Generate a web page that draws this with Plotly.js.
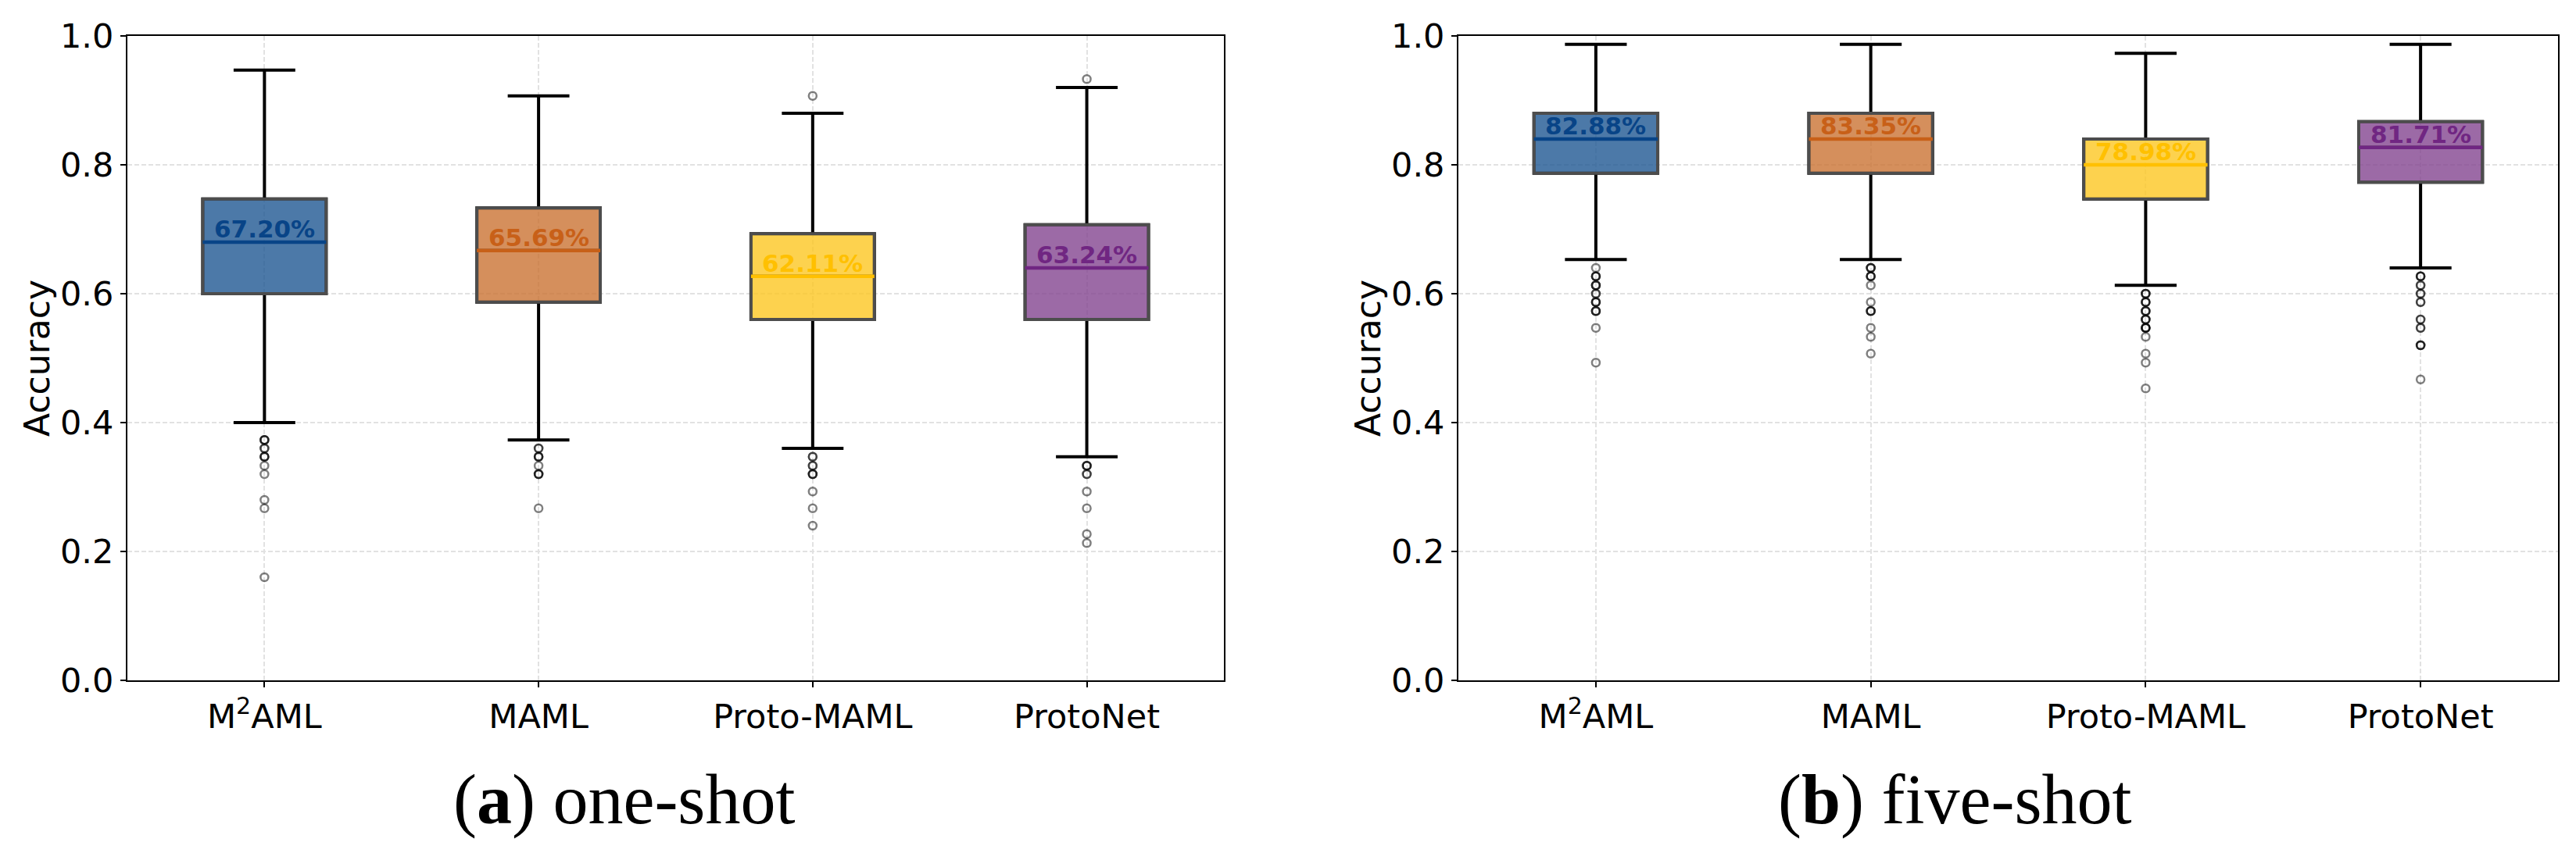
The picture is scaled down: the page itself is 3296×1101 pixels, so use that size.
<!DOCTYPE html>
<html>
<head>
<meta charset="utf-8">
<script src="https://cdn.plot.ly/plotly-3.0.1.min.js"></script>
<style>
  body { margin: 0; background: #fff; }
  #graph_panel { width: 3296px; height: 1101px; }
</style>
</head>
<body>
<div id="graph_panel"></div>
<script>
var methods = ['M<sup>2</sup>AML', 'MAML', 'Proto-MAML', 'ProtoNet'];

// (a) one-shot
var one_upper  = [0.947, 0.907, 0.880, 0.920];
var one_q3     = [0.747, 0.733, 0.693, 0.707];
var one_median = [0.680, 0.667, 0.627, 0.640];
var one_q1     = [0.600, 0.587, 0.560, 0.560];
var one_lower  = [0.400, 0.373, 0.360, 0.347];
var one_mean   = [67.20, 65.69, 62.11, 63.24];
var one_outliers = [
  [0.373, 0.373, 0.373, 0.360, 0.360, 0.347, 0.347, 0.347, 0.333, 0.320, 0.280, 0.267, 0.160],
  [0.360, 0.360, 0.347, 0.347, 0.347, 0.333, 0.320, 0.320, 0.320, 0.267],
  [0.907, 0.347, 0.347, 0.333, 0.333, 0.320, 0.320, 0.320, 0.293, 0.267, 0.240],
  [0.933, 0.333, 0.333, 0.333, 0.320, 0.320, 0.293, 0.267, 0.227, 0.213]
];

// (b) five-shot
var five_upper  = [0.987, 0.987, 0.973, 0.987];
var five_q3     = [0.880, 0.880, 0.840, 0.867];
var five_median = [0.840, 0.840, 0.800, 0.827];
var five_q1     = [0.787, 0.787, 0.747, 0.773];
var five_lower  = [0.653, 0.653, 0.613, 0.640];
var five_mean   = [82.88, 83.35, 78.98, 81.71];
var five_outliers = [
  [0.640, 0.627, 0.627, 0.627, 0.613, 0.613, 0.613, 0.600, 0.600, 0.587, 0.587, 0.587, 0.573, 0.573, 0.573, 0.547, 0.493],
  [0.640, 0.640, 0.640, 0.627, 0.627, 0.627, 0.613, 0.587, 0.573, 0.573, 0.573, 0.547, 0.533, 0.507],
  [0.600, 0.600, 0.600, 0.587, 0.587, 0.587, 0.573, 0.573, 0.573, 0.560, 0.560, 0.560, 0.547, 0.547, 0.547, 0.547, 0.533, 0.507, 0.493, 0.453],
  [0.627, 0.627, 0.627, 0.613, 0.613, 0.600, 0.600, 0.587, 0.587, 0.560, 0.560, 0.547, 0.547, 0.520, 0.520, 0.520, 0.467]
];

var fill_colors   = ['rgba(31,87,146,0.8)', 'rgba(203,115,51,0.8)', 'rgba(253,199,34,0.8)', 'rgba(131,69,144,0.8)'];
var median_colors = ['#084487', '#c86018', '#ffc000', '#702682'];

function boxTraces(xa, ya, lower, q1, med, q3, upper, outliers){
  var traces = [];
  methods.forEach(function(m, i){
    var common = { type: 'box', x: [m], xaxis: xa, yaxis: ya, width: 0.45, boxpoints: false, hoverinfo: 'skip', showlegend: false };
    // whiskers and caps
    traces.push(Object.assign({}, common, {
      q1: [q1[i]], median: [med[i]], q3: [q3[i]], lowerfence: [lower[i]], upperfence: [upper[i]],
      whiskerwidth: 0.5, fillcolor: 'rgba(0,0,0,0)', line: { color: 'black', width: 4 }
    }));
    // the box itself
    traces.push(Object.assign({}, common, {
      q1: [q1[i]], median: [med[i]], q3: [q3[i]], lowerfence: [q1[i]], upperfence: [q3[i]],
      whiskerwidth: 0, fillcolor: fill_colors[i], line: { color: '#4d4d4d', width: 4 }
    }));
    // coloured median line
    traces.push(Object.assign({}, common, {
      q1: [med[i]], median: [med[i]], q3: [med[i]], lowerfence: [med[i]], upperfence: [med[i]],
      whiskerwidth: 0, fillcolor: 'rgba(0,0,0,0)', line: { color: median_colors[i], width: 4.5 }
    }));
    traces.push({
      type: 'scatter', mode: 'markers', xaxis: xa, yaxis: ya,
      x: outliers[i].map(function(){ return m; }), y: outliers[i],
      marker: { symbol: 'circle-open', size: 10, color: 'rgba(0,0,0,0.5)', line: { width: 2.5 } },
      hoverinfo: 'skip', showlegend: false
    });
  });
  return traces;
}

function valueLabels(xa, ya, med, mean){
  return methods.map(function(m, i){
    return {
      xref: xa, yref: ya, x: i, y: med[i], yanchor: 'bottom', yshift: -3, showarrow: false,
      text: '<b>' + mean[i].toFixed(2) + '%</b>',
      font: { family: 'DejaVu Sans', size: 31, color: median_colors[i] }
    };
  });
}

function xAxis(domain, anchor){
  return {
    domain: domain, anchor: anchor, type: 'category',
    categoryorder: 'array', categoryarray: methods, range: [-0.5, 3.5],
    showline: true, mirror: true, linecolor: 'black', linewidth: 2,
    ticks: 'outside', ticklen: 7, tickwidth: 2, tickcolor: 'black',
    tickfont: { family: 'DejaVu Sans', size: 43, color: 'black' },
    showgrid: true, gridcolor: '#e2e2e2', gridwidth: 2, griddash: '6px,3px',
    zeroline: false, fixedrange: true
  };
}

function yAxis(anchor){
  return {
    anchor: anchor, domain: [0, 1], range: [0, 1], tick0: 0, dtick: 0.2, tickformat: '.1f',
    showline: true, mirror: true, linecolor: 'black', linewidth: 2,
    ticks: 'outside', ticklen: 7, tickwidth: 2, tickcolor: 'black',
    tickfont: { family: 'DejaVu Sans', size: 43, color: 'black' },
    title: { text: 'Accuracy', font: { family: 'DejaVu Sans', size: 44, color: 'black' }, standoff: 0 },
    showgrid: true, gridcolor: '#e2e2e2', gridwidth: 2, griddash: '6px,3px',
    zeroline: false, fixedrange: true
  };
}

function createGraph(){
  var data = boxTraces('x', 'y', one_lower, one_q1, one_median, one_q3, one_upper, one_outliers)
    .concat(boxTraces('x2', 'y2', five_lower, five_q1, five_median, five_q3, five_upper, five_outliers));

  var captions = [
    { xref: 'paper', yref: 'paper', x: 0.2042, y: -0.186, xanchor: 'center', yanchor: 'middle', showarrow: false,
      text: '(<b>a</b>) one-shot', font: { family: 'Liberation Serif', size: 90, color: 'black' } },
    { xref: 'paper', yref: 'paper', x: 0.7518, y: -0.186, xanchor: 'center', yanchor: 'middle', showarrow: false,
      text: '(<b>b</b>) five-shot', font: { family: 'Liberation Serif', size: 90, color: 'black' } }
  ];

  var layout = {
    width: 3296, height: 1101,
    margin: { l: 163, r: 23, t: 46, b: 230 },
    paper_bgcolor: 'white', plot_bgcolor: 'white',
    font: { family: 'DejaVu Sans', color: 'black' },
    boxmode: 'overlay', showlegend: false, hovermode: false,
    xaxis: xAxis([0, 0.4511], 'y'),
    yaxis: yAxis('x'),
    xaxis2: xAxis([0.5476, 1], 'y2'),
    yaxis2: yAxis('x2'),
    annotations: valueLabels('x', 'y', one_median, one_mean)
      .concat(valueLabels('x2', 'y2', five_median, five_mean))
      .concat(captions)
  };

  Plotly.newPlot('graph_panel', data, layout, { staticPlot: true });
}

createGraph();
</script>
</body>
</html>
